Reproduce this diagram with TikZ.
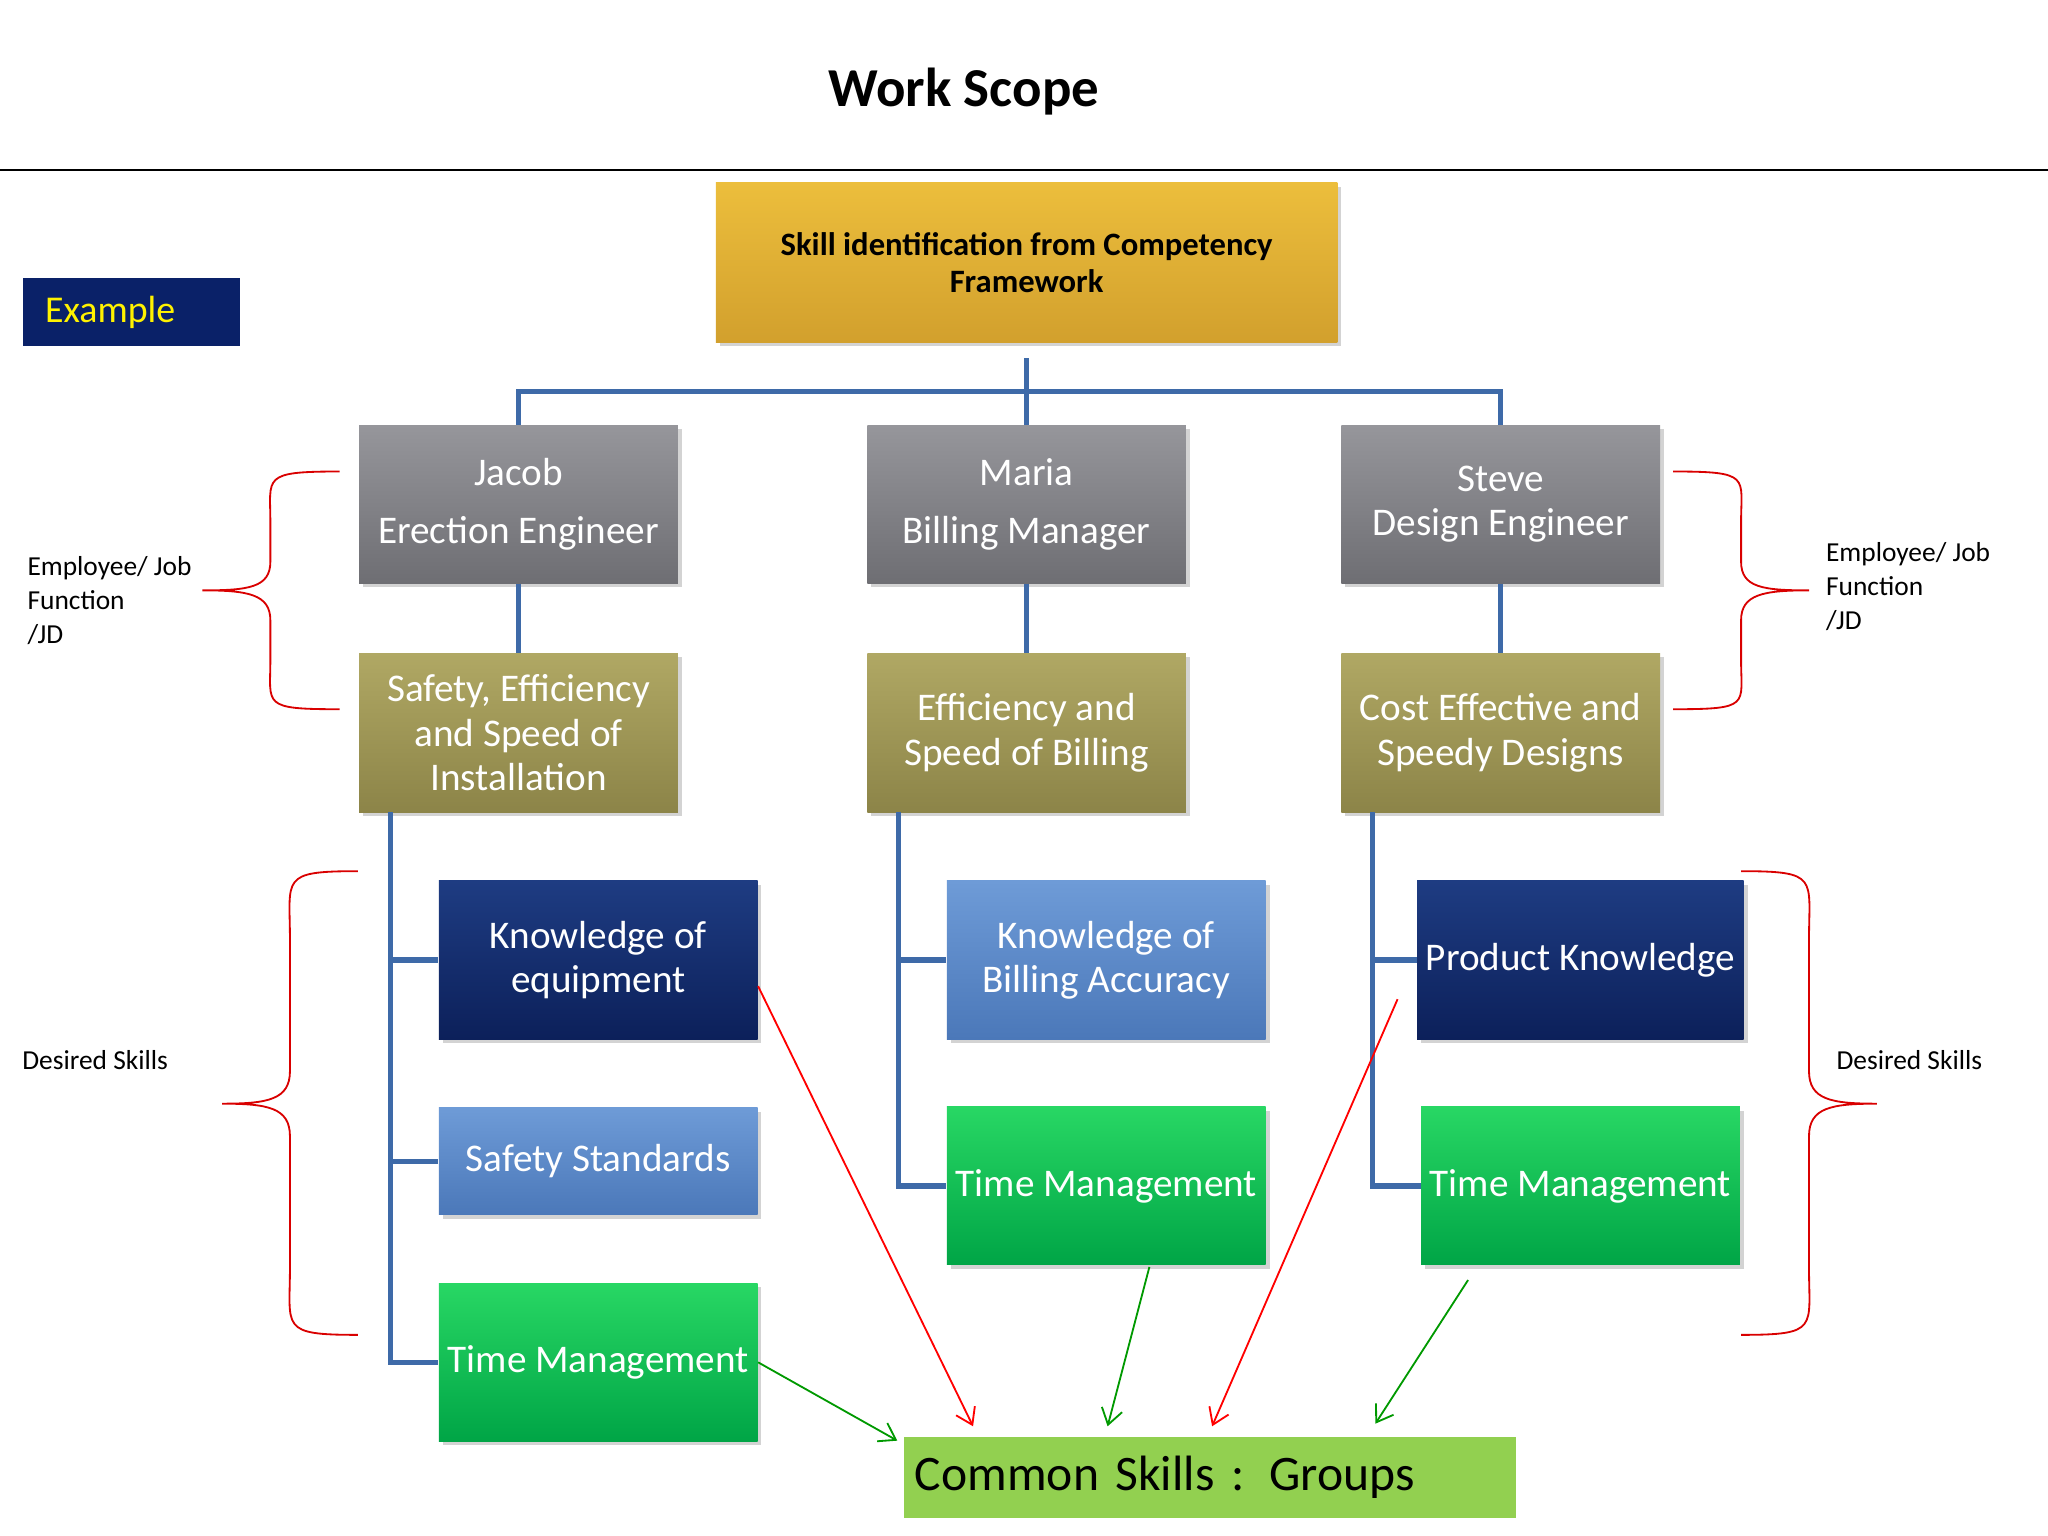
\documentclass[tikz,border=0pt]{standalone}
\usepackage{fontspec}
\setmainfont{Carlito}
\usetikzlibrary{arrows.meta,shadows}
\definecolor{olA}{RGB}{176,168,100}
\definecolor{olB}{RGB}{140,132,72}
\definecolor{nvA}{RGB}{30,60,130}
\definecolor{nvB}{RGB}{12,32,90}
\definecolor{lbA}{RGB}{110,155,215}
\definecolor{lbB}{RGB}{75,120,185}
\definecolor{gnA}{RGB}{40,215,100}
\definecolor{gnB}{RGB}{0,165,70}
\definecolor{gyA}{RGB}{150,150,155}
\definecolor{gyB}{RGB}{110,110,115}
\begin{document}
\begin{tikzpicture}[x=0.5pt,y=-0.5pt,
 bx/.style={draw=none,minimum width=122pt,align=center,text=white,font=\fontsize{15}{17}\selectfont,drop shadow={opacity=0.35,shadow xshift=1.5pt,shadow yshift=-1.5pt}},
 gray/.style={bx,minimum height=60.5pt,top color=gyA,bottom color=gyB},
 olive/.style={bx,minimum height=61pt,top color=olA,bottom color=olB,text=white},
 navy/.style={bx,minimum height=60.5pt,top color=nvA,bottom color=nvB},
 lblue/.style={bx,top color=lbA,bottom color=lbB},
 grn/.style={bx,minimum height=60.5pt,top color=gnA,bottom color=gnB},
 conn/.style={draw={rgb,255:red,62;green,106;blue,168},line width=2pt},
 brace/.style={draw=red!85!black,line width=0.7pt},
 lab/.style={align=left,anchor=north west,font=\fontsize{10.5}{13}\selectfont},
 rar/.style={draw=red,line width=0.7pt,-{Straight Barb[length=6pt,width=8pt]}},
 gar/.style={draw=green!60!black,line width=0.7pt,-{Straight Barb[length=6pt,width=8pt]}}]
\useasboundingbox (0,0) rectangle (1568,1176);
\node[font=\bfseries\fontsize{21}{24}\selectfont] (title) at (738,70) {Work Scope};
\draw[line width=0.8pt] (0,130) -- (1568,130);
\node[fill={rgb,255:red,10;green,33;blue,104},minimum width=83pt,minimum height=26pt,text=yellow,font=\fontsize{14.5}{16}\selectfont,anchor=west,inner sep=0pt] (ex) at (17,239) {\hspace{-16pt}Example};
\node[bx,minimum width=238pt,minimum height=61pt,top color={rgb,255:red,236;green,190;blue,60},bottom color={rgb,255:red,210;green,160;blue,45},text=black,font=\bfseries\fontsize{12.5}{14}\selectfont] (top) at (786,201) {Skill identification from Competency\\Framework};
\node[gray] (g1) at (397,386) {Jacob\\[5pt]Erection Engineer};
\node[gray] (g2) at (786,386) {Maria\\[5pt]Billing Manager};
\node[gray] (g3) at (1149,386) {Steve\\Design Engineer};
\node[olive] (o1) at (397,561) {Safety, Efficiency\\and Speed of\\Installation};
\node[olive] (o2) at (786,561) {Efficiency and\\Speed of Billing};
\node[olive] (o3) at (1149,561) {Cost Effective and\\Speedy Designs};
\node[navy] (s11) at (458,735) {Knowledge of\\equipment};
\node[lblue,minimum height=41pt] (s12) at (458,889) {Safety Standards};
\node[grn] (s13) at (458,1043) {Time Management};
\node[lblue,minimum height=60.5pt] (s21) at (847,735) {Knowledge of\\Billing Accuracy};
\node[grn] (s22) at (847,908) {Time Management};
\node[navy] (s31) at (1210,735) {Product Knowledge};
\node[grn] (s32) at (1210,908) {Time Management};
\node[fill={rgb,255:red,146;green,208;blue,80},minimum width=234.5pt,minimum height=31pt,font=\fontsize{19}{21}\selectfont,text=black,align=left,text width=226pt,inner xsep=4pt] (cs) at (926.5,1131) {Common Skills : Groups};
\draw[conn] (top.south) ++(0,12) coordinate (t0) -- (786,300) coordinate (t1);
\draw[conn] (g1.north) |- (t1) -| (g3.north);
\draw[conn] (t1) -- (g2.north);
\draw[conn] (g1) -- (o1); \draw[conn] (g2) -- (o2); \draw[conn] (g3) -- (o3);
\draw[conn] (299,622) coordinate (a1) -- (299,1043) -- (s13.west);
\draw[conn] (299,735) -- (s11.west); \draw[conn] (299,889) -- (s12.west);
\draw[conn] (688,622) -- (688,908) -- (s22.west); \draw[conn] (688,735) -- (s21.west);
\draw[conn] (1051,622) -- (1051,908) -- (s32.west); \draw[conn] (1051,735) -- (s31.west);
\draw[brace] (260,361) .. controls (200,361) and (207,365) .. (207,400) -- (207,430) .. controls (207,450) and (190,452) .. (155,452) .. controls (190,452) and (207,455) .. (207,475) -- (207,505) .. controls (207,540) and (200,543) .. (260,543);
\draw[brace] (1281,361) .. controls (1341,361) and (1333,365) .. (1333,400) -- (1333,430) .. controls (1333,450) and (1350,452) .. (1385,452) .. controls (1350,452) and (1333,455) .. (1333,475) -- (1333,505) .. controls (1333,540) and (1341,543) .. (1281,543);
\draw[brace] (274,667) .. controls (214,667) and (222,672) .. (222,720) -- (222,820) .. controls (222,842) and (205,845) .. (170,845) .. controls (205,845) and (222,848) .. (222,870) -- (222,970) .. controls (222,1017) and (214,1022) .. (274,1022);
\draw[brace] (1333,667) .. controls (1393,667) and (1385,672) .. (1385,720) -- (1385,820) .. controls (1385,842) and (1402,845) .. (1437,845) .. controls (1402,845) and (1385,848) .. (1385,870) -- (1385,970) .. controls (1385,1017) and (1393,1022) .. (1333,1022);
\node[lab] (l1) at (14,419) {Employee/ Job\\Function\\/JD};
\node[lab] (l2) at (1391,408) {Employee/ Job\\Function\\/JD};
\node[lab] (l3) at (10,797) {Desired Skills};
\node[lab] (l4) at (1399,797) {Desired Skills};
\coordinate (e1) at (745,1092); \coordinate (e2) at (928,1092);
\coordinate (e3) at (687,1103); \coordinate (e4) at (848,1092); \coordinate (e5) at (1053,1090);
\coordinate (b2) at (1070,765); \coordinate (b4) at (880,970); \coordinate (b5) at (1124,980);
\draw[rar] (s11.east) ++(0,20) -- (e1);
\draw[rar] (b2) -- (e2);
\draw[gar] (s13.east) -- (e3);
\draw[gar] (b4) -- (e4);
\draw[gar] (b5) -- (e5);
\end{tikzpicture}
\end{document}
